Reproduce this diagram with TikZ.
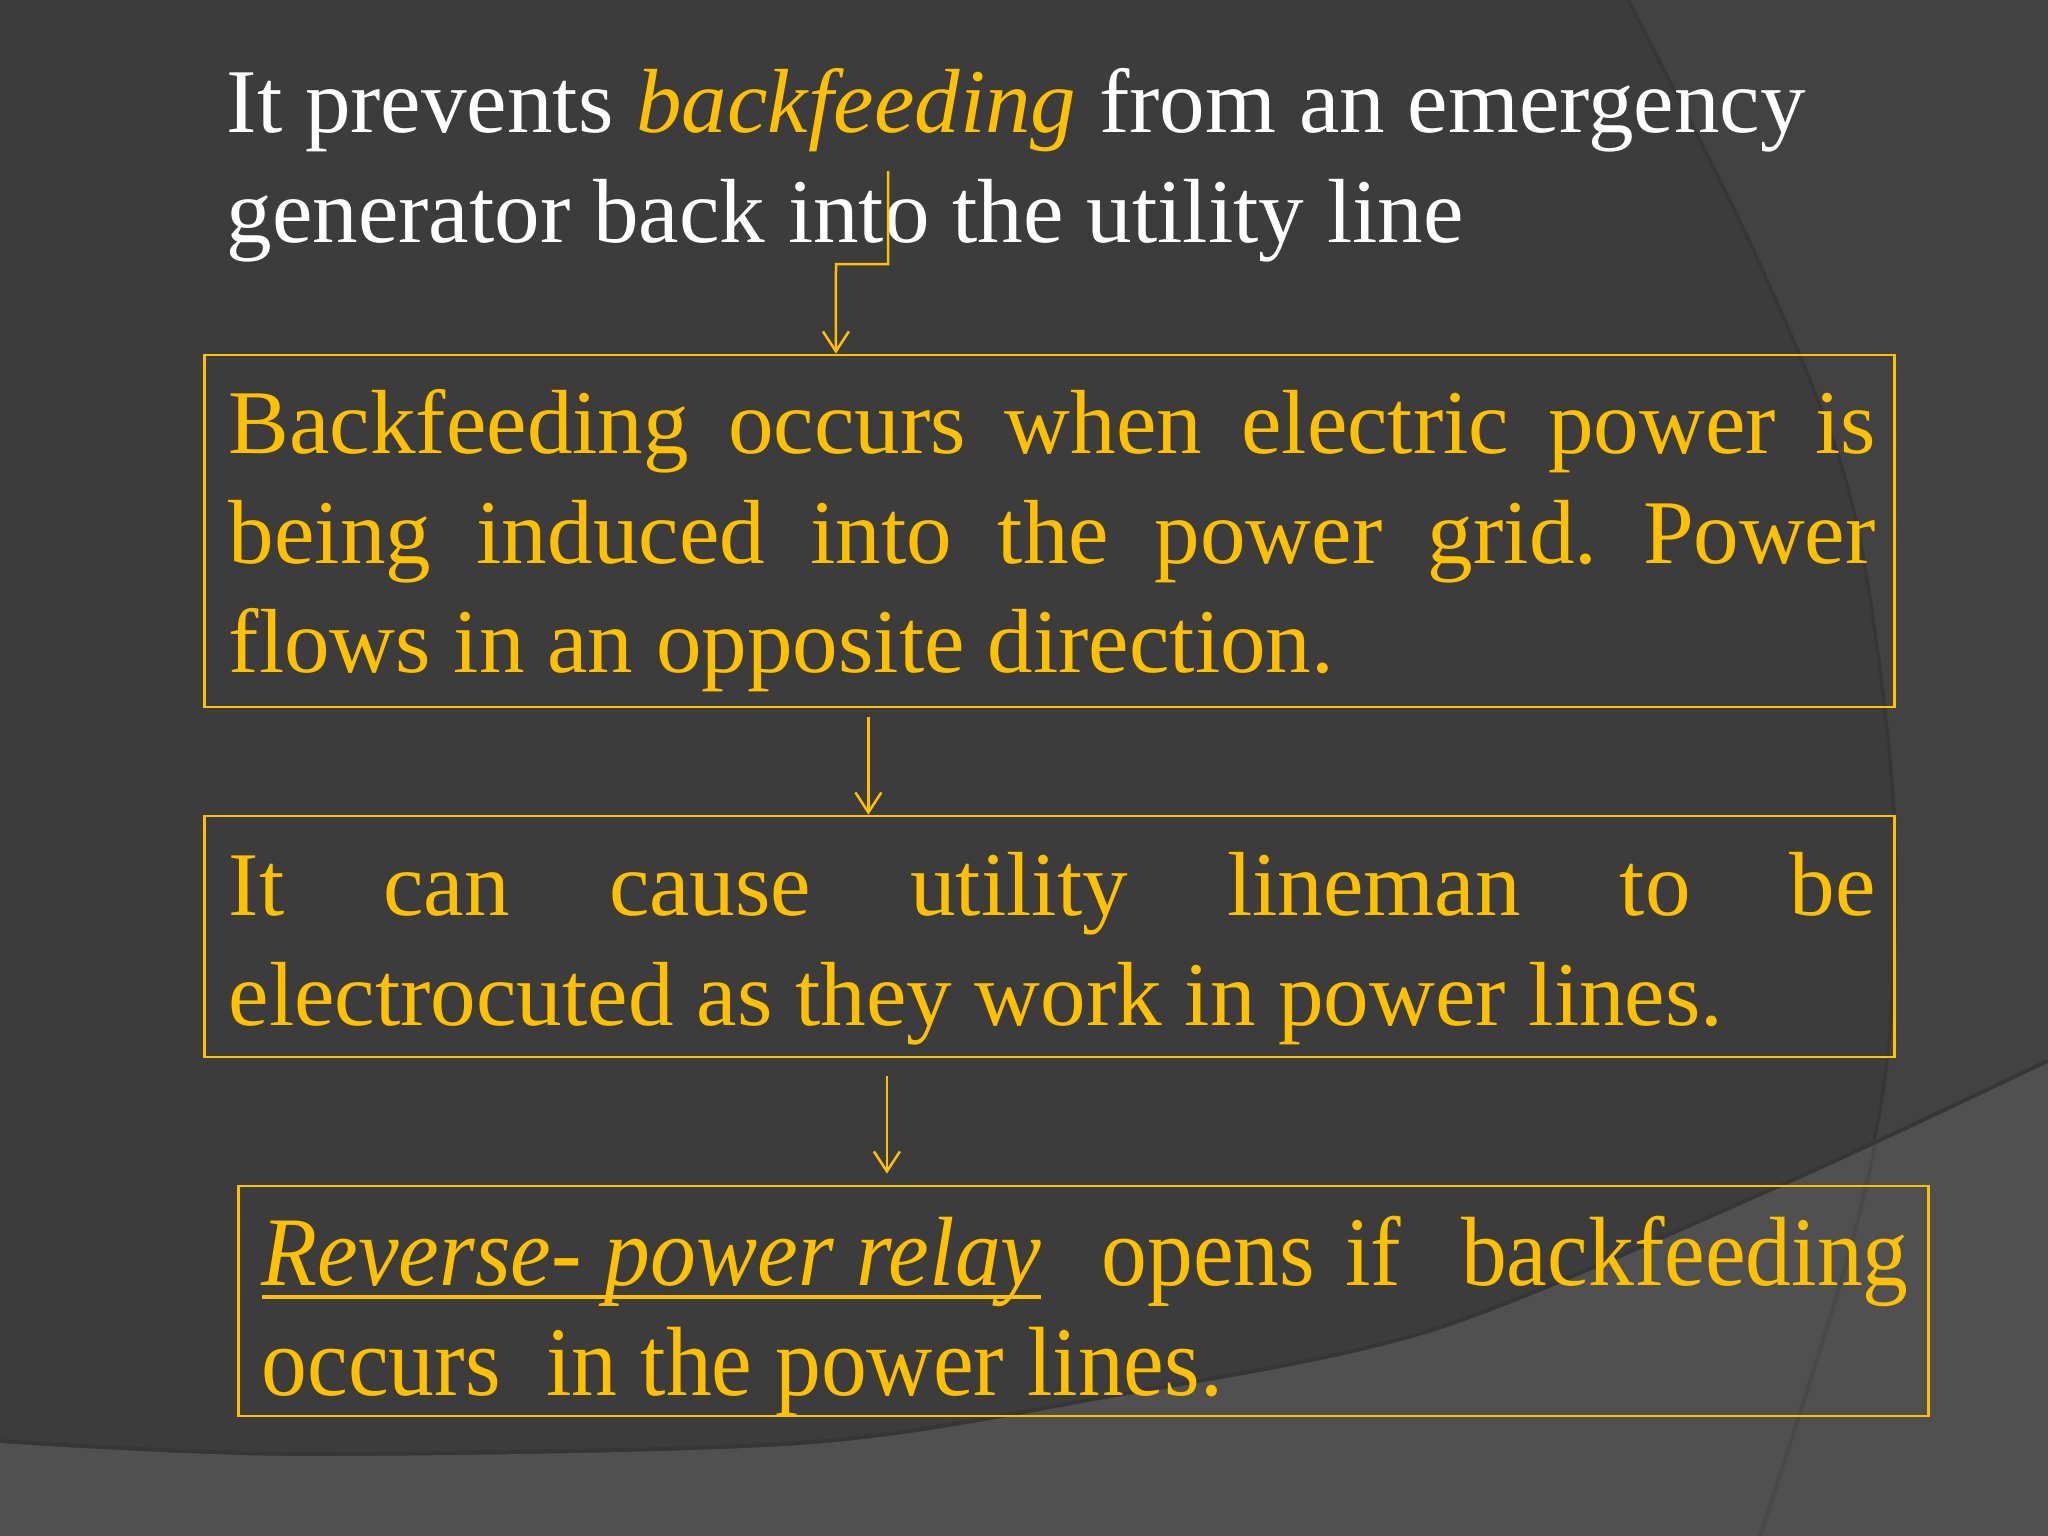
\documentclass[tikz,border=0pt]{standalone}
\usepackage{fontspec}
\setmainfont{Liberation Serif}
\newfontfamily\relayfont[FakeStretch=0.93]{Liberation Serif}
\usetikzlibrary{arrows.meta}
\frenchspacing

\definecolor{gold}{HTML}{FFC000}
\definecolor{slate}{HTML}{3C3C3C}
\definecolor{slateright}{HTML}{424243}
\definecolor{slateband}{HTML}{505050}
\definecolor{slateshade}{HTML}{363636}
\definecolor{slatefaint}{HTML}{494949}

\newcommand\bodysize{\fontsize{25.9pt}{31.15pt}\selectfont}
\newcommand\relaysize{\relayfont\fontsize{28pt}{31.15pt}\selectfont}
\newsavebox\relaybox
\newcommand\underrelay[1]{\sbox\relaybox{#1}\rlap{\rule[-0.13cm]{\wd\relaybox}{0.04cm}}\usebox\relaybox}

\begin{document}
\begin{tikzpicture}[x=0.01cm,y=-0.01cm,
	box/.style={draw=gold,line width=0.025cm,inner sep=0,minimum width=16.89cm},
	txt/.style={anchor=north west,inner sep=0,text width=16.46cm,align=justify,text=gold},
	flow/.style={draw=gold,line width=0.025cm,-{Straight Barb[length=0.2cm,width=0.26cm]}}]
\useasboundingbox (0,0) rectangle (2048,1536);
\fill[slate] (0,0) rectangle (2048,1536);
\draw[slateshade,line width=0.07cm] plot[smooth] coordinates {(1630,0) (1760,260) (1853,500) (1895,800) (1890,1050) (1850,1250) (1760,1536)};
\fill[slateright] plot[smooth] coordinates {(1630,0) (1760,260) (1853,500) (1895,800) (1890,1050) (1850,1250) (1760,1536)} -- (2048,1536) -- (2048,0) -- cycle;
\draw[slateshade,line width=0.08cm] plot[smooth] coordinates {(0,1443) (300,1456) (800,1445) (1100,1400) (1429,1333) (1775,1190) (2048,1063)};
\fill[slateband] plot[smooth] coordinates {(0,1443) (300,1456) (800,1445) (1100,1400) (1429,1333) (1775,1190) (2048,1063)} -- (2048,1536) -- (0,1536) -- cycle;
\begin{scope}
	\clip plot[smooth] coordinates {(0,1443) (300,1456) (800,1445) (1100,1400) (1429,1333) (1775,1190) (2048,1063)} -- (2048,1536) -- (0,1536) -- cycle;
	\draw[slatefaint,line width=0.04cm] plot[smooth] coordinates {(1630,0) (1760,260) (1853,500) (1895,800) (1890,1050) (1850,1250) (1760,1536)};
\end{scope}

\node[anchor=north west,inner sep=0,align=left,text=white,font=\bodysize] (head) at (226,55.35)
	{\strut It prevents \textcolor{gold}{\itshape backfeeding} from an emergency\\generator back into the utility line};

\node[box,minimum height=3.52cm] (b1) at (1049.5,531) {};
\node[box,minimum height=2.41cm] (b2) at (1049.5,936.5) {};
\node[box,minimum height=2.30cm] (b3) at (1083.5,1301) {};

\node[txt,font=\bodysize] (t1) at (228,376.35)
	{\strut Backfeeding occurs when electric power is\linebreak being induced into the power grid. Power\linebreak flows in an opposite direction.};
\node[txt,font=\bodysize] (t2) at (228,838.35)
	{\strut It can cause utility lineman to be\linebreak electrocuted as they work in power lines.};
\node[txt,font=\relaysize] (t3) at (261,1208.35)
	{\strut\underrelay{\itshape Reverse- power relay}\ \ opens if\ \ backfeeding\linebreak occurs\ \ in the power lines.};

\coordinate (tap) at (888,171);
\coordinate (jog) at (836,264);
\draw[flow] (tap) |- (jog) -- ([xshift=-2.135cm]b1.north);
\foreach \a/\b/\dx/\ya/\yb in {b1/b2/-1.81/-0.09/0,b2/b3/-1.625/-0.18/0.11}
	\draw[flow] ([xshift=\dx cm,yshift=\ya cm]\a.south) coordinate (top\a) -- ([yshift=\yb cm]top\a |- \b.north);

\end{tikzpicture}
\end{document}
